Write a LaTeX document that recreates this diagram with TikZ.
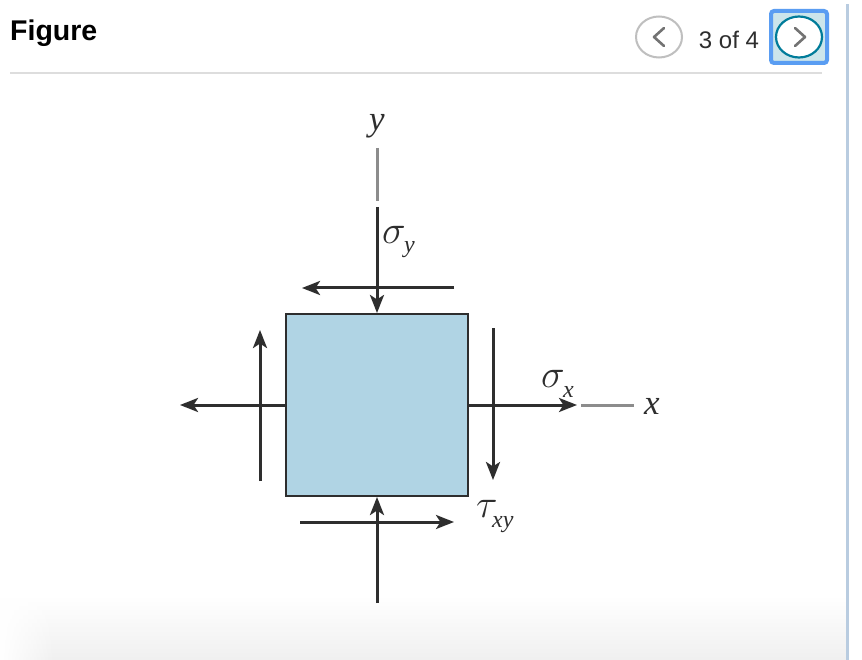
\documentclass[tikz,border=0pt]{standalone}
\usepackage{fontspec}
\usepackage{graphicx}
\setmainfont{Liberation Sans}
\newfontfamily\serifit[Ligatures=TeX]{Liberation Serif}
\usetikzlibrary{arrows.meta,fadings,shapes.geometric}
\definecolor{ink}{HTML}{2E2E2E}
\definecolor{axisgray}{HTML}{8C8C8C}
\definecolor{boxblue}{HTML}{B0D4E4}
\definecolor{focusblue}{HTML}{5A9DF2}
\definecolor{teal}{HTML}{007C9A}
\definecolor{rulegray}{HTML}{DDDDDD}
\definecolor{sidebar}{HTML}{B9CCE0}
\tikzset{
  force/.style={draw=ink,line width=3pt,-{Stealth[length=18pt,width=14pt,inset=4.5pt]}},
  axisline/.style={draw=axisgray,line width=3pt},
  lab/.style={inner sep=0pt,text=ink,anchor=base west,font=\serifit\itshape\fontsize{35}{35}\selectfont},
  sub/.style={inner sep=0pt,text=ink,anchor=base west,font=\serifit\itshape\fontsize{24}{24}\selectfont},
  greek/.style={inner sep=0pt,text=ink,anchor=base west},
  chev/.style={draw=#1,line width=2.6pt,line cap=round,line join=round},
  navbtn/.style={draw,ellipse,minimum width=46pt,minimum height=41pt,inner sep=0pt},
}
\newcommand{\biggreek}[1]{\scalebox{1.6}{\fontsize{24.88}{26}\selectfont$#1$}}
\begin{document}
\begin{tikzpicture}[x=1pt,y=-1pt]
\useasboundingbox (0,0) rectangle (862,660);
\fill[white] (0,0) rectangle (862,660);
% bottom shadow
\shade[top color=white,bottom color=black!6] (0,595) rectangle (846,660);
\fill[white,path fading=east] (0,590) rectangle (55,660);
% sidebar
\fill[sidebar] (846,4) rectangle (849,660);
% header
\node[anchor=west,inner sep=0pt,font=\bfseries\fontsize{28.5}{28.5}\selectfont,text=black] (title) at (10,33) {Figure};
\draw[rulegray,line width=1.4pt] (10,73) -- (822,73);
\node[navbtn,draw=black!25,line width=2pt] (prev) at (659,37) {};
\draw[chev=black!55] (664,28) -- (654,37) -- (664,46);
\node[inner sep=0pt,text=ink,font=\fontsize{24}{24}\selectfont] (count) at (729,40) {3 of 4};
\draw[focusblue,line width=4pt,rounded corners=3pt,fill=teal!20] (771,11) rectangle (827,63);
\node[navbtn,draw=teal,line width=2.2pt,fill=white] (next) at (799,37) {};
\draw[chev=black!55] (795,28) -- (805,37) -- (795,46);
% block
\node[draw=ink,line width=2pt,fill=boxblue,minimum size=182pt,inner sep=0pt] (block) at (377,405) {};
% coordinates
\coordinate (ytop) at (377,148);
\coordinate (ybot) at (377,201);
\coordinate (sytail) at (377,207);
\coordinate (xleft) at (581,405);
\coordinate (xright) at (634,405);
\coordinate (sxhead) at (577,405);
\coordinate (lefthead) at (180,405);
\coordinate (bottail) at (377,603);
\coordinate (tophead) at (302,288);
\coordinate (toptail) at (454,288);
\coordinate (rtail) at (493,328);
\coordinate (rhead) at (493,480);
\coordinate (btail) at (300,522);
\coordinate (bhead) at (454,522);
\coordinate (ltail) at (260,481);
\coordinate (lhead) at (260,330);
% axes
\draw[axisline] (ytop) -- (ybot);
\draw[axisline] (xleft) -- (xright);
% normal stress
\draw[force] (sytail) -- (block.north);
\draw[force] (block.east) -- (sxhead);
\draw[force] (block.west) -- (lefthead);
\draw[force] (bottail) -- (block.south);
% shear
\draw[force] (toptail) -- (tophead);
\draw[force] (rtail) -- (rhead);
\draw[force] (btail) -- (bhead);
\draw[force] (ltail) -- (lhead);
% labels
\node[lab] (ylab) at (369,131) {y};
\node[lab] (xlab) at (644,414) {x};
\node[greek] (sy) at (382,244) {\biggreek{\sigma}};
\node[sub] (syb) at (404,253) {y};
\node[greek] (sx) at (541,387) {\biggreek{\sigma}};
\node[sub] (sxb) at (563,397) {x};
\node[greek] (txy) at (476,517) {\biggreek{\tau}};
\node[sub] (txyb) at (492,527) {xy};
\end{tikzpicture}
\end{document}
